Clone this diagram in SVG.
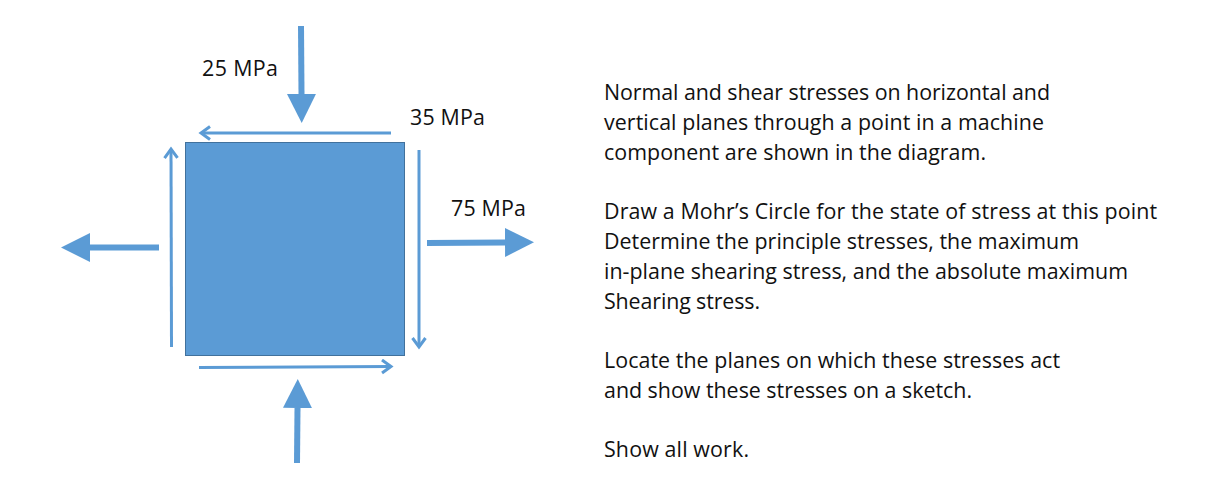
<svg xmlns="http://www.w3.org/2000/svg" width="1211" height="500" viewBox="0 0 1211 500">
<style>
text{font-family:"Open Sans","Noto Sans","DejaVu Sans",sans-serif;font-size:21.4px;fill:#111}
.thick{stroke:#5b9bd5;stroke-width:6;fill:none;marker-end:url(#solid)}
.thin{stroke:#5b9bd5;stroke-width:3;fill:none;marker-end:url(#open)}
</style>
<defs>
<marker id="solid" markerUnits="userSpaceOnUse" markerWidth="30" markerHeight="30" refX="0" refY="15" orient="auto"><path d="M0 0.5L29 15L0 29.5Z" fill="#5b9bd5"/></marker>
<marker id="open" markerUnits="userSpaceOnUse" markerWidth="14" markerHeight="16" refX="11" refY="8" orient="auto"><path d="M2 1.5L11 8L2 14.5" fill="none" stroke="#5b9bd5" stroke-width="3"/></marker>
</defs>
<rect id="square" x="185.5" y="142.5" width="219" height="213" fill="#5b9bd5" stroke="#41719c" stroke-width="1"/>
<g id="connectors">
<line class="thick" x1="301" y1="26" x2="301.5" y2="94"/>
<line class="thick" x1="297" y1="463" x2="297.5" y2="408"/>
<line class="thick" x1="159" y1="247.5" x2="90" y2="247.5"/>
<line class="thick" x1="427" y1="243" x2="505" y2="242.5"/>
<line class="thin" x1="391" y1="133" x2="201" y2="133"/>
<line class="thin" x1="171.5" y1="347" x2="171" y2="149"/>
<line class="thin" x1="419" y1="150" x2="419" y2="347"/>
<line class="thin" x1="199" y1="367.5" x2="391" y2="366.5"/>
</g>
<g id="labels">
<text x="202" y="76" textLength="76">25 MPa</text>
<text x="410" y="125" textLength="75">35 MPa</text>
<text x="451" y="216" textLength="75">75 MPa</text>
</g>
<g id="description">
<text x="604" y="100" textLength="446">Normal and shear stresses on horizontal and</text>
<text x="604" y="130" textLength="440">vertical planes through a point in a machine</text>
<text x="604" y="160" textLength="382">component are shown in the diagram.</text>
<text x="604" y="219" textLength="553">Draw a Mohr’s Circle for the state of stress at this point</text>
<text x="604" y="249" textLength="475">Determine the principle stresses, the maximum</text>
<text x="604" y="279" textLength="524">in-plane shearing stress, and the absolute maximum</text>
<text x="604" y="309" textLength="156">Shearing stress.</text>
<text x="604" y="368" textLength="456">Locate the planes on which these stresses act</text>
<text x="604" y="398" textLength="368">and show these stresses on a sketch.</text>
<text x="604" y="457" textLength="145">Show all work.</text>
</g>
</svg>
